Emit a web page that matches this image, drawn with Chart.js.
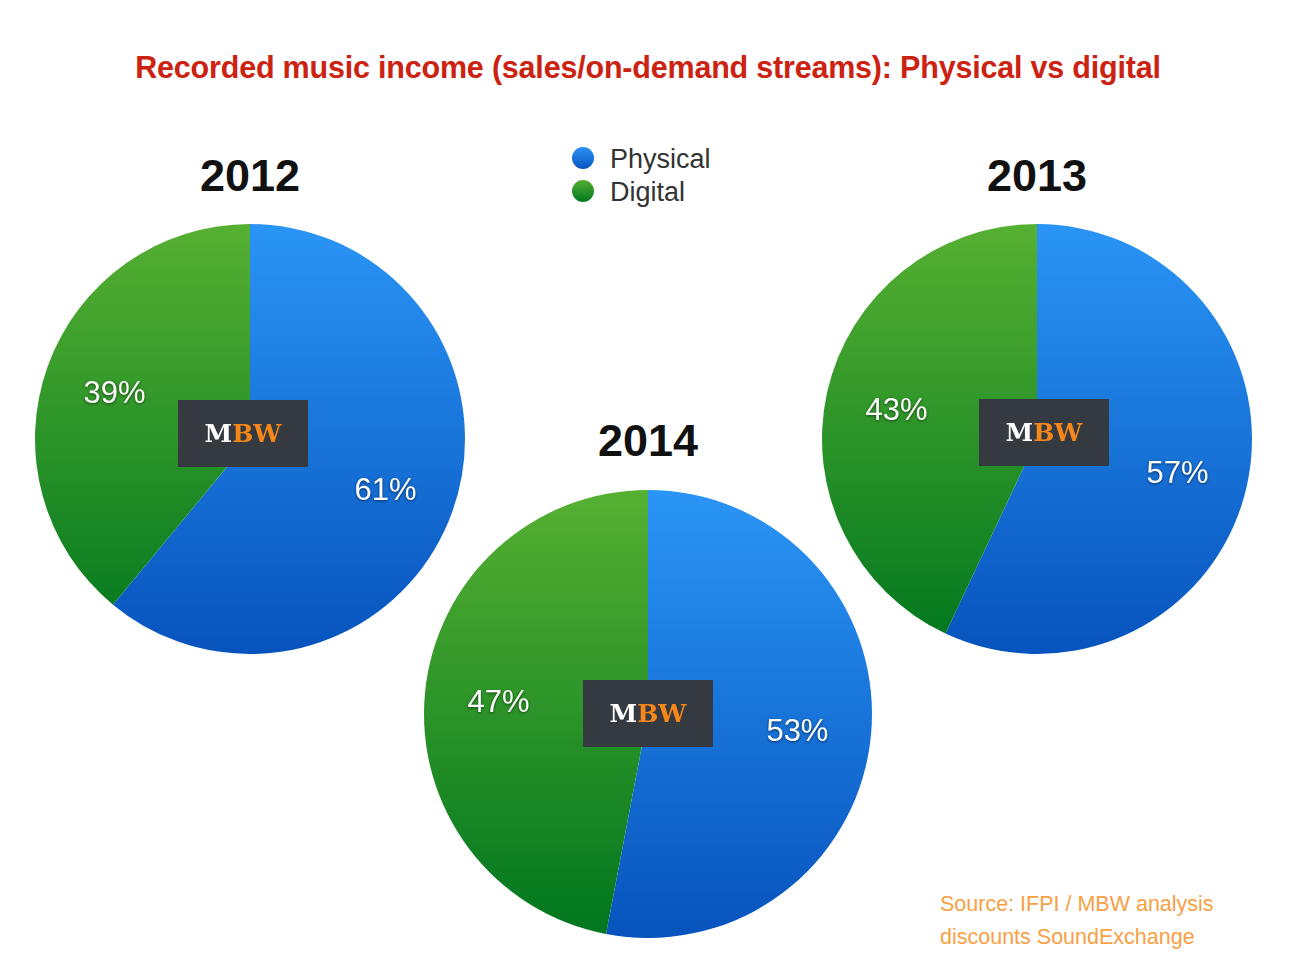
<!DOCTYPE html>
<html>
<head>
<meta charset="utf-8">
<script src="https://cdn.jsdelivr.net/npm/chart.js@4"></script>
<style>
  html, body { margin: 0; padding: 0; background: #ffffff; }
  body { width: 1296px; height: 972px; position: relative; overflow: hidden; font-family: "Liberation Sans", Arial, sans-serif; }
  .abs { position: absolute; }
  #title { left: 0; width: 1296px; top: 50px; text-align: center; color: #cc2211; font-weight: bold; font-size: 30.5px; letter-spacing: -0.2px; }
  .year { font-weight: bold; font-size: 45px; color: #111; text-align: center; width: 200px; }
  .leg { font-size: 27px; color: #333; left: 572px; }
  .leg span.dot { display: inline-block; width: 22px; height: 22px; border-radius: 50%; vertical-align: middle; margin-right: 16px; position: relative; top: -3px; }
  #source { left: 940px; top: 888px; color: #f7a045; font-size: 21.5px; line-height: 33px; }
  canvas { position: absolute; }
</style>
</head>
<body>
<div id="title" class="abs">Recorded music income (sales/on-demand streams): Physical vs digital</div>
<div class="abs leg" style="top:144px"><span class="dot" style="background:linear-gradient(#2a93f5,#0a55c0)"></span>Physical</div>
<div class="abs leg" style="top:177px"><span class="dot" style="background:linear-gradient(#54ad30,#007a22)"></span>Digital</div>
<div id="source" class="abs">Source: IFPI / MBW analysis<br>discounts SoundExchange</div>

<script>
// ---- data ----
const categories = ["Physical", "Digital"];
const years = ["2012", "2013", "2014"];
const physical = [61, 57, 53];
const digital = [39, 43, 47];

// ---- layout (pie centre x, centre y, radius, logo offset) ----
const layout = [
  { cx: 250, cy: 439, r: 215, yearY: 150, lx: -7, ly: -5 },
  { cx: 1037, cy: 439, r: 215, yearY: 150, lx: 7, ly: -6 },
  { cx: 648, cy: 714, r: 224, yearY: 415, lx: 0, ly: 0 }
];

const colors = {
  Physical: ["#2a95f6", "#0753bd"],
  Digital: ["#56b032", "#00761f"]
};

const labelPlugin = {
  id: 'sliceLabels',
  afterDatasetsDraw(chart, args, opts) {
    const ctx = chart.ctx;
    const meta = chart.getDatasetMeta(0);
    const ca = chart.chartArea;
    const cx = (ca.left + ca.right) / 2, cy = (ca.top + ca.bottom) / 2;
    // MBW logo box
    const bx = cx + opts.lx, by = cy + opts.ly;
    ctx.save();
    ctx.fillStyle = '#353a40';
    ctx.fillRect(bx - 65, by - 34, 130, 67);
    ctx.font = 'bold 25px "DejaVu Serif", serif';
    ctx.textBaseline = 'middle';
    const wM = ctx.measureText('M').width, wBW = ctx.measureText('BW').width;
    let x0 = bx - (wM + wBW) / 2;
    ctx.textAlign = 'left';
    ctx.fillStyle = '#ffffff';
    ctx.fillText('M', x0, by + 1);
    ctx.fillStyle = '#f4861a';
    ctx.fillText('BW', x0 + wM, by + 1);
    ctx.restore();

    meta.data.forEach((arc, i) => {
      const p = arc.getProps(['startAngle', 'endAngle', 'outerRadius'], true);
      const mid = (p.startAngle + p.endAngle) / 2;
      const d = p.outerRadius * 0.67;
      const x = cx + Math.cos(mid) * d, y = cy + Math.sin(mid) * d + 4;
      ctx.save();
      ctx.font = '31px "Liberation Sans", Arial, sans-serif';
      ctx.textAlign = 'center';
      ctx.textBaseline = 'middle';
      ctx.shadowColor = 'rgba(0,0,0,0.55)';
      ctx.shadowBlur = 3;
      ctx.shadowOffsetX = 0;
      ctx.shadowOffsetY = 1;
      ctx.fillStyle = '#ffffff';
      ctx.fillText(chart.data.datasets[0].data[i] + '%', x, y);
      ctx.restore();
    });
  }
};

years.forEach((yr, k) => {
  const L = layout[k];
  const size = 2 * L.r + 4;
  const cv = document.createElement('canvas');
  cv.width = size; cv.height = size;
  cv.style.left = (L.cx - size / 2) + 'px';
  cv.style.top = (L.cy - size / 2) + 'px';
  cv.style.width = size + 'px'; cv.style.height = size + 'px';
  document.body.appendChild(cv);

  const yl = document.createElement('div');
  yl.className = 'abs year';
  yl.textContent = yr;
  yl.style.left = (L.cx - 100) + 'px';
  yl.style.top = L.yearY + 'px';
  document.body.appendChild(yl);

  new Chart(cv, {
    type: 'pie',
    data: {
      labels: categories,
      datasets: [{
        data: [physical[k], digital[k]],
        borderWidth: 0,
        backgroundColor: (c) => {
          const ch = c.chart, ca = ch.chartArea;
          const name = categories[c.dataIndex];
          if (!ca) return colors[name][0];
          const g = ch.ctx.createLinearGradient(0, ca.top, 0, ca.bottom);
          g.addColorStop(0, colors[name][0]);
          g.addColorStop(1, colors[name][1]);
          return g;
        }
      }]
    },
    options: {
      responsive: false,
      devicePixelRatio: 1,
      animation: false,
      layout: { padding: 2 },
      plugins: {
        legend: { display: false }, tooltip: { enabled: false }, title: { display: false },
        sliceLabels: { lx: L.lx, ly: L.ly }
      }
    },
    plugins: [labelPlugin]
  });
});
</script>
</body>
</html>
